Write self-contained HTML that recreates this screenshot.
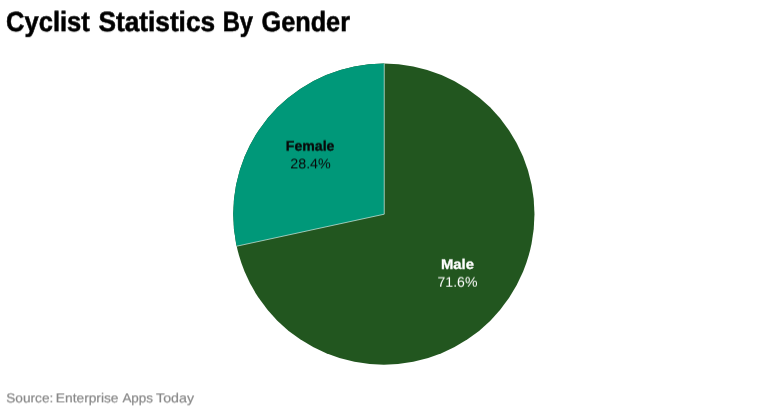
<!DOCTYPE html>
<html lang="en">
<head>
<meta charset="utf-8">
<title>Cyclist Statistics By Gender</title>
<style>
  html,body{margin:0;padding:0;background:#fff;}
  body{width:768px;height:413px;overflow:hidden;font-family:"Liberation Sans",sans-serif;}
  svg{display:block;}
  text{font-family:"Liberation Sans",sans-serif;text-rendering:geometricPrecision;}
  .title{font-weight:700;font-size:28px;}
  .lb{font-weight:700;font-size:14px;}
  .lv{font-weight:400;font-size:14px;}
  .src{font-weight:400;font-size:13px;}
</style>
</head>
<body>
<svg width="768" height="413" viewBox="0 0 768 413">
  <defs>
    <filter id="s20" x="-5%" y="-40%" width="110%" height="180%" color-interpolation-filters="sRGB"><feOffset in="SourceGraphic" dx="0" dy="1" result="o"/><feComposite in="SourceGraphic" in2="o" operator="arithmetic" k1="0" k2="0.80" k3="0.20" k4="0"/></filter>
    <filter id="s40" x="-5%" y="-40%" width="110%" height="180%" color-interpolation-filters="sRGB"><feOffset in="SourceGraphic" dx="0" dy="1" result="o"/><feComposite in="SourceGraphic" in2="o" operator="arithmetic" k1="0" k2="0.60" k3="0.40" k4="0"/></filter>
    <filter id="s60" x="-5%" y="-40%" width="110%" height="180%" color-interpolation-filters="sRGB"><feOffset in="SourceGraphic" dx="0" dy="1" result="o"/><feComposite in="SourceGraphic" in2="o" operator="arithmetic" k1="0" k2="0.40" k3="0.60" k4="0"/></filter>
    <filter id="s70" x="-5%" y="-40%" width="110%" height="180%" color-interpolation-filters="sRGB"><feOffset in="SourceGraphic" dx="0" dy="1" result="o"/><feComposite in="SourceGraphic" in2="o" operator="arithmetic" k1="0" k2="0.30" k3="0.70" k4="0"/></filter>
    <filter id="s90" x="-5%" y="-40%" width="110%" height="180%" color-interpolation-filters="sRGB"><feOffset in="SourceGraphic" dx="0" dy="1" result="o"/><feComposite in="SourceGraphic" in2="o" operator="arithmetic" k1="0" k2="0.10" k3="0.90" k4="0"/></filter>
  </defs>
  <rect width="768" height="413" fill="#ffffff"/>
  <defs><clipPath id="pc"><circle cx="383.85" cy="214.12" r="150.63"/></clipPath></defs>
  <circle cx="383.85" cy="214.12" r="150.63" fill="#22561f"/>
  <g clip-path="url(#pc)">
    <path d="M384.25 214.2 L384.25 -200 L-200 -200 L-200 299.00 L-6.66 299.00 Z" fill="#009879"/>
    <path d="M384.25 -200 L384.25 214.2 L-6.66 299.00" fill="none" stroke="#ffffff" stroke-opacity="0.62" stroke-width="0.95"/>
  </g>
  <text class="title" x="6.06" y="31" fill="#000000" textLength="83.78" lengthAdjust="spacingAndGlyphs" filter="url(#s20)" stroke="#000000" stroke-width="0.55">Cyclist</text>
  <text class="title" x="98.43" y="31" fill="#000000" textLength="116.67" lengthAdjust="spacingAndGlyphs" filter="url(#s20)" stroke="#000000" stroke-width="0.55">Statistics</text>
  <text class="title" x="222.67" y="31" fill="#000000" textLength="30.44" lengthAdjust="spacingAndGlyphs" filter="url(#s20)" stroke="#000000" stroke-width="0.55">By</text>
  <text class="title" x="261.49" y="31" fill="#000000" textLength="88.49" lengthAdjust="spacingAndGlyphs" filter="url(#s20)" stroke="#000000" stroke-width="0.55">Gender</text>
  <text class="lb" x="285.77" y="150" fill="#080808" textLength="48.68" lengthAdjust="spacingAndGlyphs" filter="url(#s60)" stroke="#080808" stroke-width="0.3">Female</text>
  <text class="lv" x="290.19" y="168" fill="#080808" textLength="40.65" lengthAdjust="spacingAndGlyphs" filter="url(#s40)">28.4%</text>
  <text class="lb" x="441.00" y="268" fill="#ffffff" textLength="32.94" lengthAdjust="spacingAndGlyphs" filter="url(#s90)" stroke="#ffffff" stroke-width="0.3">Male</text>
  <text class="lv" x="437.54" y="286" fill="#ffffff" textLength="39.88" lengthAdjust="spacingAndGlyphs" filter="url(#s70)">71.6%</text>
  <text class="src" x="6.23" y="402" fill="#888888" textLength="47.09" lengthAdjust="spacingAndGlyphs" filter="url(#s40)" stroke="#888888" stroke-width="0.2">Source:</text>
  <text class="src" x="55.86" y="402" fill="#888888" textLength="62.64" lengthAdjust="spacingAndGlyphs" filter="url(#s40)" stroke="#888888" stroke-width="0.2">Enterprise</text>
  <text class="src" x="122.42" y="402" fill="#888888" textLength="30.63" lengthAdjust="spacingAndGlyphs" filter="url(#s40)" stroke="#888888" stroke-width="0.2">Apps</text>
  <text class="src" x="156.11" y="402" fill="#888888" textLength="37.88" lengthAdjust="spacingAndGlyphs" filter="url(#s40)" stroke="#888888" stroke-width="0.2">Today</text>
</svg>
</body>
</html>
